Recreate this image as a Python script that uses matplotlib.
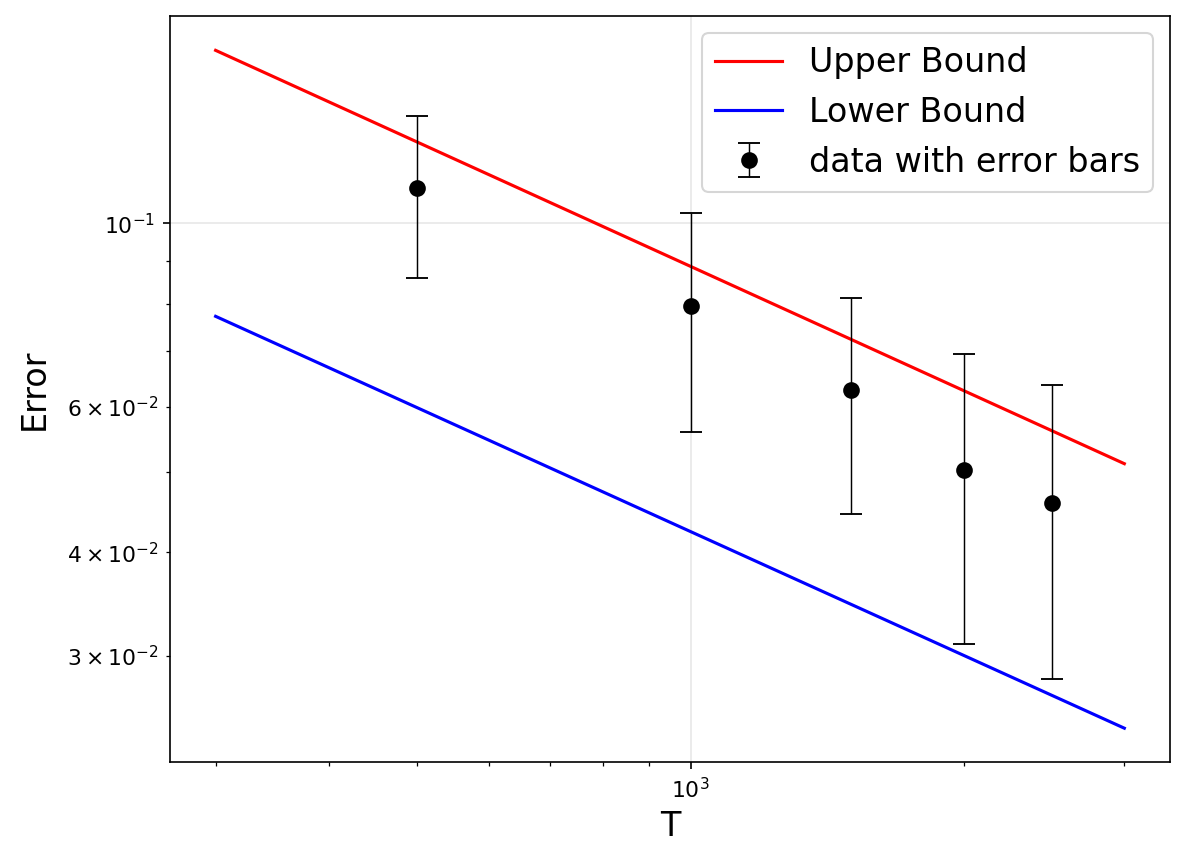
import matplotlib
matplotlib.use("Agg")
import matplotlib.pyplot as plt

# bound lines (endpoints)
t_line = [300, 3000]
upper_bound = [0.162, 0.0512]
lower_bound = [0.0772, 0.0245]

# measured data with symmetric error bars
t_data = [500, 1000, 1500, 2000, 2500]
err_mean = [0.1105, 0.0795, 0.0629, 0.0503, 0.0459]
err_std = [0.0246, 0.0235, 0.0184, 0.0193, 0.0178]

fig = plt.figure(figsize=(1190 / 150, 866 / 150), dpi=150)
fig.subplots_adjust(left=0.143, right=0.983, top=0.981, bottom=0.120)

plt.plot(t_line, upper_bound, color='red', label='Upper Bound')
plt.plot(t_line, lower_bound, color='blue', label='Lower Bound')
plt.errorbar(t_data, err_mean, yerr=err_std, fmt='o', color='black',
             markersize=7, elinewidth=0.7, capsize=5.5, capthick=0.9,
             label='data with error bars')

plt.xscale('log')
plt.yscale('log')
plt.tick_params(which='both', labelsize=10.5)
plt.xlabel('T', fontsize=16)
plt.ylabel('Error', fontsize=16, labelpad=8)
plt.grid(True, alpha=0.3)
plt.legend(fontsize=16, loc='upper right')
plt.savefig('out.png', dpi=150)
